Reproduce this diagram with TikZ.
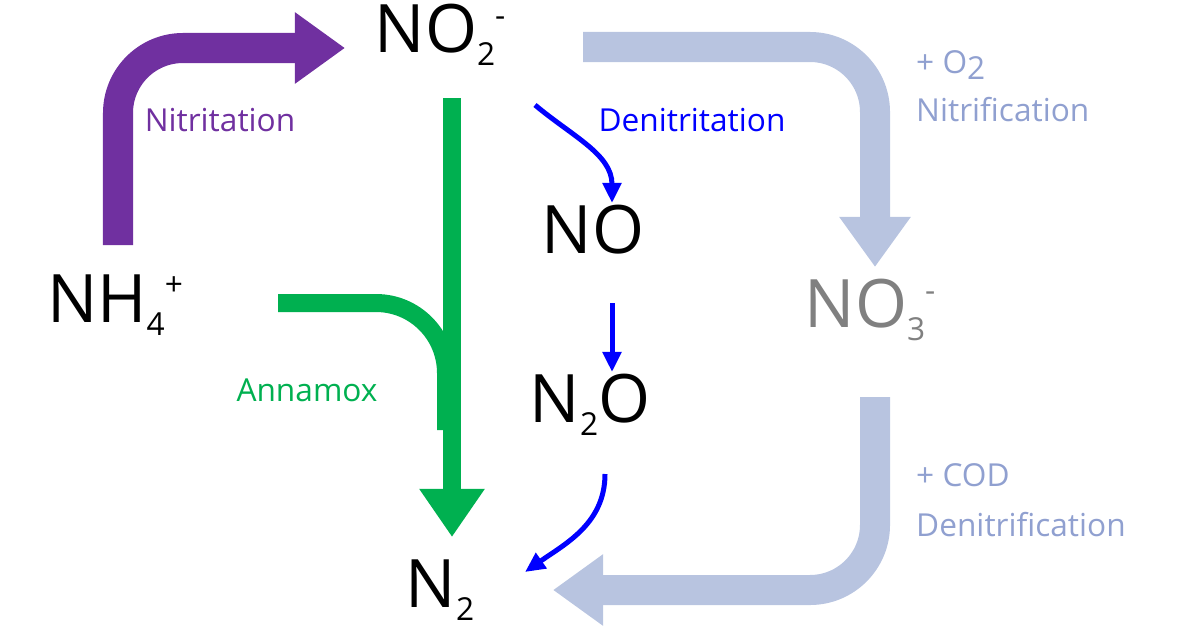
\documentclass[tikz,border=0pt]{standalone}
\usepackage{fontspec}
\setmainfont{Open Sans}
\usetikzlibrary{arrows.meta}
\definecolor{nitpurple}{HTML}{7030A0}
\definecolor{anngreen}{HTML}{00B050}
\definecolor{denblue}{HTML}{0000FF}
\definecolor{paleblue}{HTML}{B8C4E0}
\definecolor{labelblue}{HTML}{90A0D0}
\newcommand{\lo}[1]{\raisebox{-0.35ex}{\small #1}}
\newcommand{\hi}[1]{\raisebox{0.75ex}{\small #1}}
\tikzset{
  chem/.style={font=\fontsize{19}{22}\selectfont, inner sep=1pt},
  lbl/.style={font=\fontsize{9}{12}\selectfont, inner sep=1pt},
  fat/.style={line width=0.3cm, rounded corners=0.65cm},
  thin/.style={line width=0.05cm, denblue, -{Triangle[length=0.2cm,width=0.18cm]}}
}
\begin{document}
\begin{tikzpicture}[x=0.01cm,y=-0.01cm]
\useasboundingbox (0,0) rectangle (1200,630);

% species
\node[chem] (no2) at (440,35) {NO\lo{2}\hi{-}};
\node[chem] (nh4) at (115,305) {NH\lo{4}\hi{+}};
\node[chem] (no) at (593,230) {NO};
\node[chem] (n2o) at (590,405) {N\lo{2}O};
\node[chem] (n2) at (440,590) {N\lo{2}};
\node[chem, gray] (no3) at (870,310) {NO\lo{3}\hi{-}};

% labels
\node[lbl, nitpurple] (nitr) at (220,120) {Nitritation};
\node[lbl, denblue] (denitr) at (692,120) {Denitritation};
\node[lbl, anngreen] (anam) at (307,390) {Annamox};
\node[lbl, labelblue, anchor=west] (o2) at (912,65) {+ O\lo{2}};
\node[lbl, labelblue, anchor=west] (nitrif) at (912,110) {Nitrification};
\node[lbl, labelblue, anchor=west] (cod) at (912,475) {+ COD};
\node[lbl, labelblue, anchor=west] (denitrif) at (912,525) {Denitrification};

% nitritation
\draw[fat, nitpurple, -{Triangle[length=0.5cm,width=0.68cm]}]
  (118,245) |- (345,48);

% annamox
\draw[line width=0.18cm, anngreen, -{Triangle[length=0.48cm,width=0.62cm]}]
  (452,98) -- (452,537);
\draw[line width=0.18cm, anngreen, rounded corners=0.7cm]
  (278,303) -| (446,430);

% denitritation
\draw[thin] (535,105) to[out=-40, in=90] (612,203);
\draw[thin] (612,303) -- (612,372);
\draw[thin] (605,474) to[out=-90, in=35] (525,572);

% nitrification / denitrification
\draw[fat, paleblue, -{Triangle[length=0.5cm,width=0.68cm]}]
  (583,47) -| (875,267);
\draw[fat, paleblue, -{Triangle[length=0.5cm,width=0.68cm]}]
  (875,397) |- (553,590);
\end{tikzpicture}
\end{document}
